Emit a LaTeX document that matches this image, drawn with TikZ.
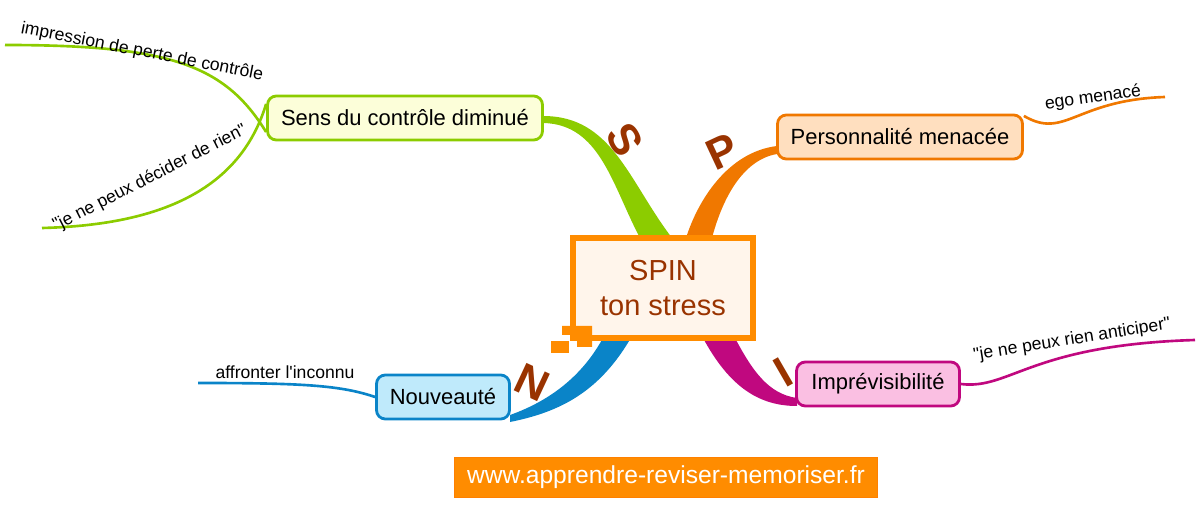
\documentclass[tikz,border=0pt]{standalone}
\usepackage{fontspec}
\setmainfont{Liberation Sans}
\usetikzlibrary{positioning}
\definecolor{brun}{HTML}{993300}
\definecolor{vert}{HTML}{8CCC00}
\definecolor{orng}{HTML}{F07800}
\definecolor{mgta}{HTML}{C0087F}
\definecolor{bleu}{HTML}{0A84C8}
\tikzstyle{topic}=[draw, line width=1.6pt, rounded corners=5pt, minimum height=0.88cm, font=\fontsize{12.5}{14}\selectfont]
\tikzstyle{leaf}=[inner sep=1pt, font=\fontsize{10}{12}\selectfont]
\tikzstyle{letter}=[text=brun, font=\fontsize{25}{28}\selectfont\bfseries]
\tikzstyle{twig}=[line width=1.5pt]
\begin{document}
\begin{tikzpicture}[x=0.02cm, y=-0.02cm]
    \useasboundingbox (0,0) rectangle (1200,506);
    % main branches
    \fill[vert] (543,116) .. controls (612,116) and (628,180) .. (672,238) -- (640,238) .. controls (612,185) and (600,124) .. (543,123) -- cycle;
    \fill[orng] (777,146) .. controls (728,152) and (698,200) .. (686,238) -- (712,238) .. controls (722,200) and (742,160) .. (777,154) -- cycle;
    \fill[mgta] (703,338) .. controls (730,388) and (760,406) .. (797,406) -- (797,398) .. controls (768,394) and (752,370) .. (735,338) -- cycle;
    \fill[bleu] (632,336) .. controls (600,392) and (560,412) .. (510,422) -- (510,415) .. controls (552,400) and (584,374) .. (604,336) -- cycle;
    % central topic
    \node[draw=orange!90!yellow, line width=3pt, fill=orange!8, minimum width=3.6cm, minimum height=2cm, text=brun, align=center, font=\fontsize{16.5}{20}\selectfont] (spin) at (663,288) {SPIN\\ton stress};
    \fill[orange!90!yellow] (562,326) -- (592,326) -- (592,347) -- (577,347) -- (577,335) -- (562,335) -- cycle;
    \fill[orange!90!yellow] (551,341) rectangle (569,353);
    % topics
    \node[topic, draw=vert, fill=vert!15!yellow!15, minimum width=5.5cm] (sens) at (405,118) {Sens du contrôle diminué};
    \node[topic, draw=orng, fill=orange!25, minimum width=4.9cm] (perso) at (900,137) {Personnalité menacée};
    \node[topic, draw=mgta, fill=magenta!25, minimum width=3.26cm] (impr) at (878,384) {Imprévisibilité};
    \node[topic, draw=bleu, fill=cyan!25, minimum width=2.66cm] (nouv) at (443,397) {Nouveauté};
    % letters
    \node[letter, rotate=-60] (s) at (625,140) {S};
    \node[letter, rotate=25] (p) at (722,152) {P};
    \node[letter, rotate=30] (i) at (783,372) {I};
    \node[letter, rotate=-25] (n) at (532,383) {N};
    % twigs
    \coordinate (g1) at (5,45);
    \coordinate (g2) at (42,228);
    \coordinate (o1) at (1165,97);
    \coordinate (m1) at (1195,340);
    \coordinate (b1) at (198,383);
    \draw[twig, vert] ([yshift=-8]sens.west) .. controls (225,65) and (170,45) .. (g1);
    \draw[twig, vert] ([yshift=8]sens.west) .. controls (240,190) and (160,225) .. (g2);
    \draw[twig, orng] ([yshift=12]perso.east) .. controls (1065,140) and (1075,100) .. (o1);
    \draw[twig, mgta] (impr.east) .. controls (1010,390) and (1030,345) .. (m1);
    \draw[twig, bleu] (nouv.west) .. controls (340,385) and (300,383) .. (b1);
    \node[leaf, rotate=-11] (l1) at (142,52) {impression de perte de contrôle};
    \node[leaf, rotate=27] (l2) at (150,178) {\textquotedbl je ne peux décider de rien\textquotedbl};
    \node[leaf, rotate=8] (l3) at (1093,98) {ego menacé};
    \node[leaf, rotate=9] (l4) at (1072,340) {\textquotedbl je ne peux rien anticiper\textquotedbl};
    \node[leaf] (l5) at (285,372) {affronter l\textquotesingle inconnu};
    % web address
    \node[fill=orange!90!yellow, draw=orange, minimum width=8.46cm, minimum height=0.8cm, text=white, font=\fontsize{14}{16}\selectfont] (www) at (666,477) {www.apprendre-reviser-memoriser.fr};
\end{tikzpicture}
\end{document}
